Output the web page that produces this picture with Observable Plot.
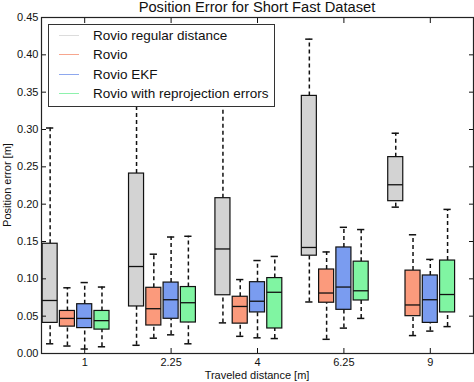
<!DOCTYPE html>
<html><head><meta charset="utf-8">
<script src="https://cdn.jsdelivr.net/npm/d3@7"></script>
<script src="https://cdn.jsdelivr.net/npm/@observablehq/plot@0.6"></script>
<style>
body{margin:0;background:#fff;}
#wrap{position:relative;width:474px;height:382px;font-family:"Liberation Sans",Arial,sans-serif;color:#111;overflow:hidden;}
#wrap svg{position:absolute;left:0;top:0;}
.title{position:absolute;left:41px;width:432px;top:-1px;text-align:center;font-size:14.7px;line-height:17px;}
.xlab{position:absolute;left:41px;width:432px;top:368px;text-align:center;font-size:11px;line-height:14px;}
.ylab{position:absolute;left:-93px;top:178px;width:200px;text-align:center;font-size:11px;line-height:14px;transform:rotate(-90deg);}
.legend{position:absolute;left:48px;top:24px;width:225px;height:80px;border:1.3px solid #333;background:#fff;padding-top:1px;}
.row{display:flex;align-items:center;height:19.3px;font-size:13.5px;}
.row .sw{width:20px;height:0;border-top:1.2px solid;margin-left:10px;margin-right:14px;}
</style></head><body><div id="wrap"></div>
<script>
const distances = ["1", "2.25", "4", "6.25", "9"];
const methods = ["Rovio regular distance", "Rovio", "Rovio EKF", "Rovio with reprojection errors"];
const fills = ["#d3d3d3", "#fb9a7c", "#7a9cf0", "#80f5a2"];
const legendColors = ["#dcdcdc", "#f7a68e", "#8ea8ee", "#8ef2ad"];
const yTicks = [0, 0.05, 0.1, 0.15, 0.2, 0.25, 0.3, 0.35, 0.4, 0.45];

// [method][distance]
const whiskerLow = [
  [0.013, 0.011, 0.041, 0.069, 0.196],
  [0.010, 0.0205, 0.023, 0.019, 0.024],
  [0.006, 0.025, 0.021, 0.034, 0.030],
  [0.009, 0.013, 0.020, 0.047, 0.036]
];
const quartile1 = [
  [0.041, 0.063, 0.078, 0.131, 0.204],
  [0.036, 0.0375, 0.040, 0.068, 0.050],
  [0.034, 0.0465, 0.055, 0.0585, 0.041],
  [0.032, 0.0415, 0.0335, 0.071, 0.055]
];
const medians = [
  [0.071, 0.1165, 0.140, 0.142, 0.226],
  [0.047, 0.060, 0.063, 0.081, 0.065],
  [0.047, 0.072, 0.070, 0.089, 0.072],
  [0.044, 0.068, 0.082, 0.084, 0.079]
];
const quartile3 = [
  [0.147, 0.241, 0.208, 0.345, 0.263],
  [0.057, 0.088, 0.076, 0.1125, 0.111],
  [0.066, 0.095, 0.0955, 0.142, 0.1045],
  [0.057, 0.089, 0.101, 0.123, 0.1245]
];
const whiskerHigh = [
  [0.302, 0.40, 0.38, 0.421, 0.295],
  [0.088, 0.133, 0.099, 0.136, 0.159],
  [0.095, 0.156, 0.1245, 0.169, 0.126],
  [0.089, 0.157, 0.130, 0.166, 0.193]
];

const rows = [];
methods.forEach((name, m) => distances.forEach((dist, d) => {
  rows.push({m, name, dist, pos: d + 1 + (m - 2) * 0.2,
    low: whiskerLow[m][d], q1: quartile1[m][d], med: medians[m][d],
    q3: quartile3[m][d], high: whiskerHigh[m][d]});
}));

const hw = 0.087, cw = 0.042;
const ink = "#111";
const chart = Plot.plot({
  width: 474, height: 382,
  marginLeft: 41, marginRight: 1, marginTop: 17, marginBottom: 29,
  style: {fontFamily: '"Liberation Sans", Arial, sans-serif', fontSize: "11px", color: ink, background: "#fff"},
  x: {domain: [0.5, 5.5], label: null},
  y: {domain: [0, 0.45], label: null},
  marks: [
    Plot.ruleX(rows, {x: "pos", y1: "low", y2: "q1", stroke: ink, strokeWidth: 1.5, strokeDasharray: "4,3"}),
    Plot.ruleX(rows, {x: "pos", y1: "q3", y2: "high", stroke: ink, strokeWidth: 1.5, strokeDasharray: "4,3"}),
    Plot.ruleY(rows, {y: "low", x1: d => d.pos - cw, x2: d => d.pos + cw, stroke: ink, strokeWidth: 1.5}),
    Plot.ruleY(rows, {y: "high", x1: d => d.pos - cw, x2: d => d.pos + cw, stroke: ink, strokeWidth: 1.5}),
    Plot.rect(rows, {x1: d => d.pos - hw, x2: d => d.pos + hw, y1: "q1", y2: "q3", fill: d => fills[d.m], stroke: ink, strokeWidth: 1.2}),
    Plot.ruleY(rows, {y: "med", x1: d => d.pos - hw, x2: d => d.pos + hw, stroke: ink, strokeWidth: 1.3}),
    Plot.axisY({anchor: "left", ticks: yTicks, tickFormat: d3.format(".2f"), tickSize: -5, tickPadding: 8, label: null}),
    Plot.axisY({anchor: "right", ticks: yTicks, tickFormat: () => "", tickSize: -5, label: null}),
    Plot.axisX({anchor: "bottom", ticks: [1, 2, 3, 4, 5], tickFormat: i => distances[i - 1], tickSize: -5, tickPadding: 10, label: null}),
    Plot.axisX({anchor: "top", ticks: [1, 2, 3, 4, 5], tickFormat: () => "", tickSize: -5, label: null}),
    Plot.frame({stroke: "#222", strokeWidth: 1.2})
  ]
});

const wrap = document.getElementById("wrap");
wrap.appendChild(chart);
const t = document.createElement("div"); t.className = "title"; t.textContent = "Position Error for Short Fast Dataset"; wrap.appendChild(t);
const xl = document.createElement("div"); xl.className = "xlab"; xl.textContent = "Traveled distance [m]"; wrap.appendChild(xl);
const yl = document.createElement("div"); yl.className = "ylab"; yl.textContent = "Position error [m]"; wrap.appendChild(yl);
const lg = document.createElement("div"); lg.className = "legend";
methods.forEach((name, m) => {
  const r = document.createElement("div"); r.className = "row";
  const sw = document.createElement("span"); sw.className = "sw"; sw.style.borderTopColor = legendColors[m];
  const tx = document.createElement("span"); tx.textContent = name;
  r.appendChild(sw); r.appendChild(tx); lg.appendChild(r);
});
wrap.appendChild(lg);
</script></body></html>
